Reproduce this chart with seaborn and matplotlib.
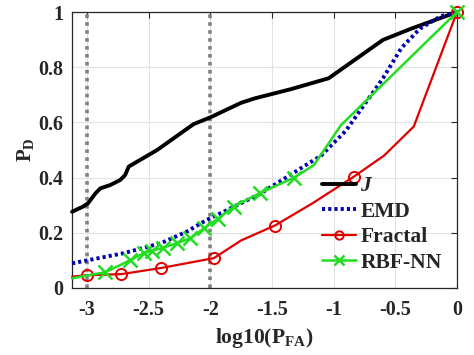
import numpy as np
import pandas as pd
import seaborn as sns
import matplotlib
matplotlib.use("Agg")
import matplotlib.pyplot as plt

# values (x = log10(P_FA), y = P_D)
j_x = [-3.12, -3.03, -2.99, -2.93, -2.89, -2.81, -2.73, -2.69, -2.66, -2.43,
       -2.134, -2.0, -1.75, -1.64, -1.35, -1.04, -0.6, -0.37, 0.0]
j_y = [0.276, 0.295, 0.307, 0.343, 0.361, 0.373, 0.391, 0.409, 0.44, 0.50,
       0.594, 0.618, 0.671, 0.687, 0.72, 0.76, 0.899, 0.94, 1.0]

emd_x = [-3.12, -2.70, -2.40, -2.19, -2.03, -1.86, -1.6, -1.35, -1.1, -0.9,
         -0.6, -0.45, -0.3, -0.13, 0.0]
emd_y = [0.089, 0.126, 0.162, 0.204, 0.246, 0.283, 0.34, 0.41, 0.48, 0.57,
         0.76, 0.87, 0.94, 0.985, 1.0]

frac_x = [-3.12, -3.0, -2.72, -2.40, -1.97, -1.75, -1.476, -1.17, -0.837,
          -0.59, -0.35, 0.0]
frac_y = [0.041, 0.046, 0.05, 0.072, 0.108, 0.172, 0.226, 0.307, 0.403,
          0.48, 0.585, 1.0]
frac_marks = [1, 2, 3, 4, 6, 8, 11]

rbf_x = [-3.12, -2.85, -2.65, -2.54, -2.47, -2.38, -2.27, -2.16, -2.05,
         -1.94, -1.81, -1.60, -1.32, -1.16, -0.94, 0.0]
rbf_y = [0.035, 0.057, 0.10, 0.126, 0.135, 0.146, 0.162, 0.18, 0.216,
         0.25, 0.295, 0.343, 0.40, 0.445, 0.59, 1.0]
rbf_marks = [1, 2, 3, 4, 5, 6, 7, 8, 9, 10, 11, 12, 15]

vlines = [-3, -2]
xticks = [-3, -2.5, -2, -1.5, -1, -0.5, 0]
yticks = [0, 0.2, 0.4, 0.6, 0.8, 1]

sns.set_style("white")
plt.rcParams["font.family"] = ["Liberation Serif", "DejaVu Serif"]
plt.rcParams["font.weight"] = "bold"
plt.rcParams["mathtext.fontset"] = "custom"
plt.rcParams["mathtext.rm"] = "Liberation Serif:bold"
plt.rcParams["mathtext.bf"] = "Liberation Serif:bold"
plt.rcParams["mathtext.it"] = "Liberation Serif:italic:bold"

fig = plt.figure(figsize=(4.74, 3.55), dpi=100)
ax = fig.add_axes([0.152, 0.189, 0.812, 0.777])

for v in vlines:
    ax.axvline(v, color="#808080", ls=(0, (1, 1.2)), lw=2.6, zorder=1)


def draw(x, y, label, **style):
    sns.lineplot(x=x, y=y, ax=ax, sort=False, estimator=None)
    line = ax.lines[-1]
    line.set_label(label)
    line.set(**style)
    line.set_clip_on(False)
    return line


draw(j_x, j_y, "$J$", color="black", lw=2.8, ls="-", zorder=3)
draw(emd_x, emd_y, "EMD", color="#0000b4", lw=2.8, ls=(0, (0.8, 0.8)),
     zorder=3)
draw(frac_x, frac_y, "Fractal", color="#e00000", lw=1.6, ls="-", marker="o",
     markersize=8, markerfacecolor="none", markeredgecolor="#e00000",
     markeredgewidth=1.4, markevery=frac_marks, zorder=4)
draw(rbf_x, rbf_y, "RBF-NN", color="#22dd22", lw=1.8, ls="-", marker="x",
     markersize=10, markeredgecolor="#22dd22", markeredgewidth=1.8,
     markevery=rbf_marks, zorder=5)

ax.set_xlim(-3.12, 0)
ax.set_ylim(0, 1)
ax.set_xticks(xticks)
ax.set_xticklabels(["-3", "-2.5", "-2", "-1.5", "-1", "-0.5", "0"])
ax.set_yticks(yticks)
ax.set_yticklabels(["0", "0.2", "0.4", "0.6", "0.8", "1"])
ax.grid(True, color="#e2e2e2", lw=0.8)
ax.tick_params(direction="in", top=True, right=True, length=4, width=0.8,
               labelsize=14.5)
ax.tick_params(axis="x", pad=9)
ax.tick_params(axis="y", pad=6)
for s in ax.spines.values():
    s.set_color("#262626")
    s.set_linewidth(0.9)

ax.set_xlabel("log10(P$_{\\mathbf{FA}}$)", fontsize=15.5, fontweight="bold",
              labelpad=4)
ax.set_ylabel("P$_{\\mathbf{D}}$", fontsize=15, fontweight="bold", labelpad=2)

leg = ax.legend(loc="lower right", bbox_to_anchor=(1.0, 0.0), frameon=False,
                fontsize=15.5, handlelength=1.6, handletextpad=0.2,
                labelspacing=0.25, borderaxespad=0.3, markerscale=0.75)
for t in leg.get_texts():
    t.set_fontweight("bold")

fig.savefig("out.png", dpi=100)
